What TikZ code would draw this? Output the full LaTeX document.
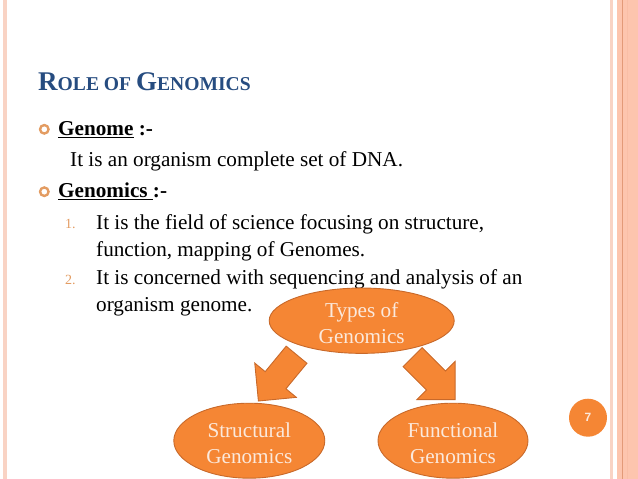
\documentclass[tikz,border=0pt]{standalone}
\usepackage{fontspec}
\setmainfont{Liberation Serif}
\setsansfont{Liberation Sans}
\usetikzlibrary{shapes.geometric,shapes.arrows}
\definecolor{bandlight}{HTML}{F9D3C4}
\definecolor{bandfull}{HTML}{FDC5AE}
\definecolor{bandline}{HTML}{E39A78}
\definecolor{titleblue}{HTML}{264C80}
\definecolor{fillorange}{HTML}{F58634}
\definecolor{edgeorange}{HTML}{C8692A}
\definecolor{numorange}{HTML}{E39C62}
\definecolor{labelcream}{HTML}{FBE9DC}
\newcommand{\bubbletop}{\rule{0pt}{20pt}}
\begin{document}
\begin{tikzpicture}[x=1pt, y=-1pt]
  \tikzset{
    body/.style={anchor=base west,inner sep=0pt,align=left,font=\fontsize{21.2}{27}\selectfont},
    listnum/.style={anchor=base west,inner sep=0pt,text=numorange,font=\fontsize{14}{15}\selectfont},
    ring/.style={circle,draw=numorange,line width=2.4pt,minimum size=8.5pt,inner sep=0pt},
    bubble/.style={ellipse,draw=edgeorange,line width=0.9pt,fill=fillorange,text=labelcream,inner sep=0pt,
      align=center,font=\fontsize{21.2}{26}\selectfont},
    blockarrow/.style={single arrow,draw=edgeorange,line width=0.9pt,fill=fillorange,inner sep=13pt,
      single arrow head extend=13.5pt,single arrow tip angle=90,minimum height=60pt,anchor=tip}
  }
  \useasboundingbox (0,0) rectangle (638,479);
  % page bands
  \fill[bandlight] (3.3,0) rectangle (7.3,479);
  \fill[bandlight] (610,0) rectangle (613,479);
  \fill[bandfull] (617,0) rectangle (638,479);
  \draw[bandline,line width=0.7pt] (622.5,0) -- (622.5,479);
  \draw[bandfull!85!bandline,line width=0.5pt] (627.5,0) -- (627.5,479);

  \node[anchor=base west,inner sep=0pt,text=titleblue,font=\bfseries] (title) at (38,90.5)
    {{\fontsize{27}{27}\selectfont R}{\fontsize{19.6}{27}\selectfont OLE OF }{\fontsize{27}{27}\selectfont G}{\fontsize{19.6}{27}\selectfont ENOMICS}};

  \node[ring] (ringa) at (44.3,129.3) {};
  \node[body] (genome) at (58,135.5) {\textbf{\underline{Genome}\ :-}};
  \node[body] (genomedef) at (70,166) {It is an organism complete set of DNA.};
  \node[ring] (ringb) at (44.3,191.7) {};
  \node[body] (genomics) at (58,197.5) {\textbf{\underline{Genomics\ }:-}};
  \node[listnum] (numa) at (65,228) {1.};
  \node[body] (itema) at (96,256) {It is the field of science focusing on structure,\\function, mapping of Genomes.};
  \node[listnum] (numb) at (65,284) {2.};
  \node[body] (itemb) at (96,311) {It is concerned with sequencing and analysis of an\\organism genome.};

  \node[blockarrow,rotate=-129.5] (arrowl) at (258,401.5) {};
  \node[blockarrow,rotate=-45] (arrowr) at (455.5,400) {};
  \node[bubble,minimum width=185pt,minimum height=64pt] (types) at (361.7,320.7) {\bubbletop Types of\\Genomics};
  \node[bubble,minimum width=151pt,minimum height=75pt] (struct) at (249.3,440.7) {\bubbletop Structural\\Genomics};
  \node[bubble,minimum width=150pt,minimum height=75pt] (funct) at (453,440.7) {\bubbletop Functional\\Genomics};

  \node[circle,fill=fillorange,minimum size=38pt,inner sep=0pt,text=labelcream,font=\sffamily\bfseries\fontsize{12}{13}\selectfont] (pagenum) at (588,417.7) {7};
\end{tikzpicture}
\end{document}
